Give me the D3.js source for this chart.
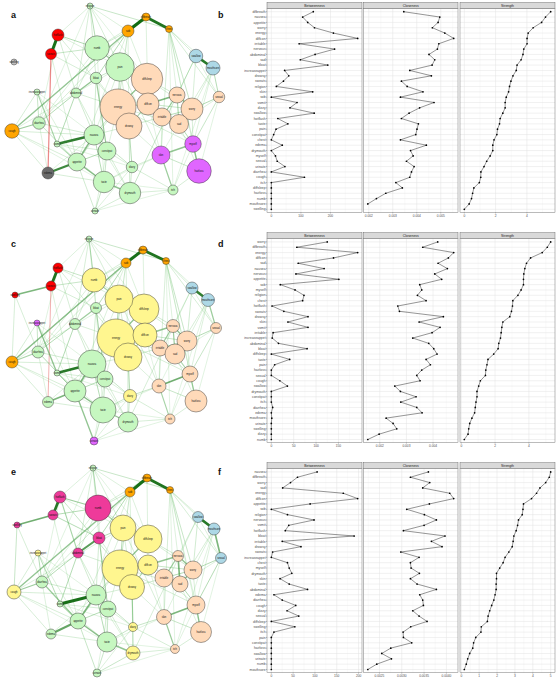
<!DOCTYPE html>
<html>
<head>
<meta charset="utf-8">
<script src="https://cdn.jsdelivr.net/npm/d3@7"></script>
<style>
  body { margin: 0; background: #fff; }
  text { font-family: "Liberation Sans", Arial, sans-serif; }
</style>
</head>
<body>
<div id="chart"></div>
<script>
// symptom nodes (same order for all three networks)
const nodeNames = ["religion","sob","difbreath","chest","hotflash","sweats","swelling","edema","swallow","mouthsore",
  "diffsleep","energy","drowsy","diffcon","nervous","worry","irritable","sad","sexual","myself",
  "hairloss","skin","numb","pain","bloat","abdominal","increaseappet","diarrhea","vomit","nausea",
  "constipat","appetite","taste","drymouth","dizzy","itch","urinate","cough"];

// layouts (qgraph layout units)
const layoutA = [[90,6],[128,31],[146,17],[169,29],[58,35],[51,54],[14,62],[48,173],[196,56],[213,68],
  [147,79],[118,107],[129,126],[148,104],[177,95],[192,109],[162,117],[179,124],[219,97],[193,144],
  [199,171],[161,155],[97,48],[120,67],[96,78],[76,93],[37,92],[39,123],[57,144],[94,135],
  [107,151],[77,162],[104,182],[130,193],[132,167],[173,190],[95,211],[12,131]];
const layoutC = [[89,11],[126,35],[143,22],[166,33],[58,40],[51,58],[15,67],[48,174],[192,60],[208,72],
  [144,81],[116,110],[128,129],[145,107],[173,98],[187,113],[160,120],[175,126],[216,100],[190,146],
  [196,173],[159,158],[94,52],[119,71],[96,80],[75,96],[37,95],[38,124],[57,145],[92,136],
  [105,151],[75,163],[103,182],[128,194],[130,168],[170,191],[94,213],[12,134]];
const layoutE = [[93,12],[130,36],[147,22],[170,34],[60,41],[53,59],[17,69],[51,178],[198,61],[214,73],
  [148,83],[120,112],[132,131],[148,109],[178,100],[193,114],[164,122],[180,128],[221,102],[196,149],
  [201,176],[164,161],[98,52],[123,72],[99,82],[78,97],[38,97],[42,126],[60,148],[96,139],
  [108,153],[78,165],[107,186],[133,197],[133,171],[175,193],[97,217],[14,136]];

// node size values
const sizeA = [12,24,16,14,24,22,12,24,27,28,63,72,52,44,32,44,36,38,23,33,49,36,49,57,23,20,12,25,12,40,36,36,43,43,23,20,12,29];
const sizeC = [12,20,16,14,20,20,12,22,24,26,60,76,56,48,26,40,32,40,22,32,44,28,48,56,22,22,12,24,12,56,32,44,52,40,26,20,16,24];
const sizeE = [12,20,16,14,24,20,12,20,22,24,56,72,50,40,22,36,36,32,22,36,42,30,52,52,24,20,12,24,12,40,32,32,40,28,18,18,16,28];

// communities
const groupA = ["g","o","o","o","r","r","gr","dg","b","b","p","p","p","p","p","p","p","p","p","m",
  "m","m","g","g","g","g","g","g","g","g","g","g","g","g","g","g","g","o"];
const groupC = ["g","o","o","o","r","r","r","g","b","b","y","y","y","y","p","p","p","p","p","p",
  "p","p","y","y","g","g","m","g","g","g","g","g","g","g","y","p","m","o"];
const groupE = ["g","o","o","o","k","k","k","g","b","b","y","y","y","y","p","p","p","p","b","p",
  "p","p","k","y","k","k","y","g","g","g","g","g","g","y","y","p","g","y"];

// edges: from, to, weight in a, c, e
const edges = [
  ["sob","difbreath",0.95,0.9,0.9],["difbreath","chest",0.85,0.85,0.85],["hotflash","sweats",0.9,0.85,0.8],
  ["swallow","mouthsore",0.8,0.75,0.8],["edema","appetite",0.7,0.45,0.55],["vomit","nausea",0.75,0.8,0.9],
  ["bloat","abdominal",0.35,0.3,0.6],["sweats","swelling",0,0.45,0.5],["sweats","edema",-0.3,-0.15,0],
  ["cough","sob",0.35,0.4,0.35],["skin","myself",0.35,0.5,0.45],["mouthsore","sexual",0.2,0.3,0.45],
  ["numb","pain",0.3,0.25,0.25],["energy","drowsy",0.5,0.45,0.45],["energy","diffsleep",0.35,0.35,0.35],
  ["energy","diffcon",0.3,0.3,0.3],["diffcon","nervous",0.45,0.35,0.35],["diffcon","drowsy",0.25,0.25,0.25],
  ["nervous","worry",0.4,0.35,0.35],["nervous","irritable",0.3,0.3,0.3],["nervous","sad",0.25,0.3,0.45],
  ["worry","sad",0.4,0.4,0.4],["irritable","sad",0.3,0.3,0.3],["worry","irritable",0.2,0.2,0.2],
  ["sad","myself",0.2,0.25,0.2],["myself","hairloss",0.35,0.3,0.35],["skin","itch",0.3,0.25,0.3],
  ["hairloss","skin",0.15,0.15,0.15],["hairloss","itch",0.1,0.1,0.1],["sexual","worry",0.2,0.2,0.2],
  ["sexual","myself",0.15,0.15,0.2],["appetite","taste",0.4,0.4,0.4],["nausea","appetite",0.4,0.45,0.45],
  ["constipat","bloat",0.3,0.25,0.25],["nausea","constipat",0.25,0.25,0.25],["appetite","constipat",0.2,0.2,0.2],
  ["taste","drymouth",0.35,0.35,0.35],["taste","constipat",0.15,0.15,0.15],["drymouth","swallow",0.15,0.1,0.1],
  ["diarrhea","cough",0.3,0.25,0.3],["diarrhea","abdominal",0.2,0.2,0.2],["diarrhea","appetite",0.15,0.2,0.3],
  ["diarrhea","nausea",0.12,0.12,0.12],["hotflash","numb",0.2,0.15,0.3],["religion","numb",0.2,0.2,0.2],
  ["religion","chest",0.15,0.15,0.15],["religion","pain",0.1,0.1,0.1],["religion","abdominal",0.1,0.1,0.1],
  ["drowsy","dizzy",0.2,0.2,0.25],["dizzy","nausea",0.15,0.15,0.15],["dizzy","taste",0.1,0.15,0.15],
  ["pain","diffsleep",0.25,0.25,0.25],["pain","energy",0.2,0.2,0.2],["pain","bloat",0.15,0.15,0.2],
  ["urinate","taste",0.15,0.15,0.15],["urinate","appetite",0.12,0.35,0.15],["urinate","drymouth",0.1,0.1,0.15],
  ["increaseappet","vomit",0.25,0.35,0.2],["increaseappet","diarrhea",0.15,0.15,0.2],["increaseappet","cough",0.1,0.1,0.1],
  ["vomit","abdominal",0.2,0.2,0.2],["swelling","cough",0,0.1,0.15],["swelling","diarrhea",0,0.1,0.1],
  ["chest","worry",0.15,0.15,0.15],["chest","swallow",0.1,0.1,0.1],["chest","sexual",0.1,0.1,0.1],
  ["chest","skin",0.1,0.1,0.1],["sob","energy",0.15,0.15,0.15],["sob","numb",0.12,0.12,0.12],
  ["sob","bloat",0.2,0.2,0.2],["difbreath","numb",0.1,0.1,0.1],["difbreath","diffcon",0.08,0.08,0.08],
  ["swallow","worry",0.1,0.12,0.12],["mouthsore","sad",0.1,0.1,0.1],["myself","energy",0.1,0.1,0.1],
  ["skin","dizzy",0.1,0.15,0.15],["itch","drymouth",0.1,0.1,0.1],["drowsy","drymouth",0.15,0.15,0.15],
  ["energy","nausea",0.15,0.15,0.15],["numb","diffsleep",0.1,0.1,0.1],["abdominal","energy",0.1,0.1,0.1],
  ["sweats","bloat",0.1,0.1,0.2],["hotflash","energy",0.1,0.1,0.15],["cough","nausea",0.1,0.1,0.1],
  ["sweats","numb",0.15,0.15,0.2],["hotflash","abdominal",0.1,0.1,0.25],["pain","skin",0.1,0.1,0.1],
  ["energy","sad",0.1,0.1,0.1],["diffcon","worry",0.15,0.15,0.15],["drowsy","irritable",0.12,0.12,0.12],
  ["cough","edema",0.1,0.1,0.1],["nausea","taste",0.2,0.2,0.2],["constipat","drymouth",0.1,0.1,0.1],
  ["appetite","vomit",0.2,0.2,0.2],["itch","dizzy",0.1,0.1,0.1],
  ["religion","sob",0.08,0.08,0.08],["religion","hotflash",0.08,0.08,0.08],["religion","bloat",0.1,0.1,0.1],
  ["religion","diarrhea",0.06,0.06,0.06],["religion","diffsleep",0.06,0.06,0.06],["chest","itch",0.06,0.06,0.06],
  ["chest","myself",0.08,0.08,0.08],["chest","hairloss",0.06,0.06,0.06],["chest","nervous",0.08,0.08,0.08],
  ["chest","mouthsore",0.08,0.08,0.08],["sob","drowsy",0.08,0.08,0.08],["sob","appetite",0.08,0.08,0.08],
  ["sob","diarrhea",0.1,0.1,0.1],["cough","pain",0.08,0.08,0.08],["cough","appetite",0.1,0.1,0.1],
  ["cough","taste",0.06,0.06,0.06],["numb","abdominal",0.1,0.1,0.1],["numb","diarrhea",0.08,0.08,0.08],
  ["numb","taste",0.06,0.06,0.06],["hotflash","pain",0.08,0.08,0.08],["hotflash","diarrhea",0.06,0.06,0.06],
  ["sweats","appetite",0.08,0.08,0.08],["edema","taste",0.1,0.1,0.1],["edema","diarrhea",0.08,0.08,0.08],
  ["edema","nausea",0.08,0.08,0.08],["vomit","constipat",0.1,0.1,0.1],["vomit","dizzy",0.06,0.06,0.06],
  ["mouthsore","worry",0.08,0.08,0.08],["mouthsore","myself",0.08,0.08,0.08],["mouthsore","itch",0.06,0.06,0.06],
  ["swallow","nervous",0.08,0.08,0.08],["swallow","sexual",0.08,0.08,0.08],["sexual","sad",0.08,0.08,0.08],
  ["sexual","hairloss",0.06,0.06,0.06],["myself","itch",0.06,0.06,0.06],["hairloss","sad",0.08,0.08,0.08],
  ["skin","taste",0.06,0.06,0.06],["skin","drowsy",0.08,0.08,0.08],["itch","taste",0.06,0.06,0.06],
  ["itch","urinate",0.06,0.06,0.06],["dizzy","drymouth",0.1,0.1,0.1],["dizzy","constipat",0.08,0.08,0.08],
  ["drymouth","nausea",0.08,0.08,0.08],["drowsy","nausea",0.1,0.1,0.1],["diffsleep","worry",0.1,0.1,0.1],
  ["diffsleep","nervous",0.12,0.12,0.12],["diffsleep","sob",0.08,0.08,0.08],["energy","appetite",0.1,0.1,0.1],
  ["energy","constipat",0.08,0.08,0.08],["pain","nausea",0.08,0.08,0.08],["pain","drowsy",0.1,0.1,0.1],
  ["bloat","nausea",0.12,0.12,0.12],["bloat","energy",0.1,0.1,0.1],["abdominal","nausea",0.12,0.12,0.12],
  ["abdominal","constipat",0.1,0.1,0.1],["increaseappet","appetite",0.08,0.08,0.08],["increaseappet","nausea",0.06,0.06,0.06],
  ["urinate","constipat",0.06,0.06,0.06],["urinate","dizzy",0.08,0.08,0.08],["taste","vomit",0.08,0.08,0.08],
  ["irritable","myself",0.1,0.1,0.1],["irritable","skin",0.08,0.08,0.08],["worry","myself",0.1,0.1,0.1],
  ["sad","skin",0.06,0.06,0.06],["diffcon","sad",0.12,0.12,0.12],["diffcon","skin",0.06,0.06,0.06]
];

// centrality panels
const labelsB = ["difbreath","nausea","appetite","worry","energy","diffcon","irritable","nervous","abdominal","sad",
  "bloat","increaseappet","drowsy","sweats","religion","skin","sob","vomit","dizzy","swallow",
  "hotflash","taste","pain","constipat","chest","edema","drymouth","myself","sexual","urinate",
  "diarrhea","cough","itch","diffsleep","hairloss","numb","mouthsore","swelling"];
const betB = [142,106,123,146,210,292,94,214,148,98,191,45,59,41,17,140,0,87,63,145,22,56,16,8,0,37,0,14,20,46,0,112,0,0,0,0,0,0];
const cloB = [0.00346,0.00496,0.00489,0.00465,0.00517,0.00554,0.00492,0.00486,0.00451,0.00475,0.00464,0.00371,0.00461,
  0.00336,0.0036,0.00426,0.00332,0.00472,0.00412,0.00368,0.00336,0.00407,0.00401,0.00396,0.00332,0.0044,0.00374,
  0.00385,0.00357,0.00389,0.00378,0.00371,0.00313,0.0034,0.00271,0.00232,0.00196,null];
const strB = [5.52,5.19,4.94,4.40,4.08,4.01,4.01,3.80,3.75,3.63,3.37,3.32,3.11,2.98,2.89,2.83,2.68,2.61,2.61,2.46,
  2.29,2.25,2.12,2.08,1.90,1.82,1.82,1.65,1.43,1.26,1.06,1.05,0.96,0.61,0.53,0.46,0.31,0.0];

const labelsD = ["worry","difbreath","energy","diffcon","sad","nausea","nervous","appetite","sob","myself",
  "religion","chest","hotflash","sweats","drowsy","skin","vomit","irritable","increaseappet","abdominal",
  "bloat","diffsleep","taste","pain","hairloss","sexual","cough","swallow","drymouth","constipat",
  "itch","diarrhea","edema","mouthsore","urinate","swelling","dizzy","numb"];
const betD = [125,57,193,139,60,118,55,151,20,53,73,70,1.5,28,82,37,82,4,2,16,80,0,41,7.5,0,0,19,36,0,0,0,3,0,1,0,0,0,0];
const cloD = [0.004175,0.003613,0.004775,0.004575,0.004188,0.004538,0.004063,0.004325,0.0035,0.003575,0.003413,
  0.003738,0.002675,0.002738,0.004388,0.003475,0.004263,0.003963,0.003238,0.003838,0.004025,0.00415,0.003738,
  0.0039,0.003575,0.003388,0.003513,0.002563,0.002775,0.003363,0.002788,0.003388,0.003588,0.002238,0.0025,
  0.002638,0.001975,0.00155];
const strD = [5.29,5.09,4.79,4.10,3.86,3.76,3.70,3.68,3.68,3.54,3.35,3.05,3.03,2.97,2.87,2.46,2.40,2.36,2.32,2.22,
  2.18,1.92,1.58,1.52,1.45,1.43,1.13,1.03,0.93,0.93,0.87,0.83,0.79,0.63,0.50,0.44,0.40,0.18];

const labelsF = ["nausea","difbreath","worry","sad","energy","diffcon","appetite","sob","religion","nervous",
  "vomit","hotflash","bloat","irritable","drowsy","sweats","increaseappet","chest","myself","drymouth",
  "skin","taste","abdominal","edema","diarrhea","cough","dizzy","sexual","diffsleep","swelling",
  "itch","pain","constipat","hairloss","swallow","urinate","numb","mouthsore"];
const betF = [105,60,44,26,165,198,89,0,37,98,40,32,190,25,68,3,0,37,41,47,20,41,83,6,25,56,36,63,0,54,6,0,0,0,0,0,0,0];
const cloF = [0.003597,0.003194,0.003627,0.00347,0.004075,0.004164,0.003619,0.003112,0.003507,0.003776,0.0035,
  0.003037,0.00397,0.003664,0.003903,0.002978,0.003388,0.003194,0.003209,0.003396,0.003194,0.003343,0.003776,
  0.003403,0.00347,0.003485,0.003246,0.003388,0.003567,0.003201,0.00303,0.003037,0.003224,0.002754,0.002552,
  0.002769,0.00244,0.002239];
const strF = [5.0,4.92,4.72,4.40,4.21,3.93,3.48,3.45,3.41,3.20,3.15,3.07,2.94,2.90,2.85,2.66,2.45,2.34,2.15,1.97,
  1.97,1.95,1.95,1.89,1.82,1.70,1.59,1.50,1.46,1.12,1.10,0.81,0.69,0.64,0.47,0.36,0.28,0.17];

const ticksB = [[0,100,200],[0.002,0.003,0.004,0.005],[0,2,4]];
const ticksD = [[0,50,100,150],[0.002,0.003,0.004],[0,2,4]];
const ticksF = [[0,50,100,150,200],[0.0025,0.003,0.0035,0.004],[0,1,2,3,4,5]];

const groupColor = { g: "#C6F7C0", o: "#FFA500", r: "#FF0000", gr: "#BEBEBE", dg: "#6B6B6B", b: "#ADD8E6",
  p: "#FFDAB9", m: "#E066FF", y: "#FFF68F", k: "#EE3A9A" };

const svg = d3.select("#chart").append("svg")
  .attr("width", 556)
  .attr("height", 685);

svg.append("rect").attr("width", 556).attr("height", 685).attr("fill", "#fff");

function drawNetwork(oy, layout, sizes, groups, wi) {
  const x = d3.scaleLinear().domain([0, 230]).range([0, 230]);
  const y = d3.scaleLinear().domain([0, 220]).range([oy, oy + 220]);
  const r = d3.scaleLinear().domain([0, 80]).range([0, 20]);
  const idx = new Map(nodeNames.map((n, i) => [n, i]));
  const g = svg.append("g");

  const es = edges.filter(e => e[wi] !== 0)
    .sort((a, b) => Math.abs(a[wi]) - Math.abs(b[wi]));
  const green = d3.interpolateRgb("#86d386", "#0a660a");

  g.selectAll("line").data(es).enter().append("line")
    .attr("x1", e => x(layout[idx.get(e[0])][0]))
    .attr("y1", e => y(layout[idx.get(e[0])][1]))
    .attr("x2", e => x(layout[idx.get(e[1])][0]))
    .attr("y2", e => y(layout[idx.get(e[1])][1]))
    .attr("stroke", e => e[wi] < 0 ? "#d33" : green(Math.min(1, e[wi] * 1.3)))
    .attr("stroke-opacity", e => 0.4 + 0.6 * Math.abs(e[wi]))
    .attr("stroke-width", e => 0.35 + 2.9 * Math.abs(e[wi]))
    .attr("stroke-linecap", "round");

  const nodes = g.selectAll(".node").data(nodeNames).enter().append("g")
    .attr("transform", (d, i) => "translate(" + x(layout[i][0]) + "," + y(layout[i][1]) + ")");

  nodes.append("circle")
    .attr("r", (d, i) => r(sizes[i]))
    .attr("fill", (d, i) => groupColor[groups[i]])
    .attr("stroke", "#333")
    .attr("stroke-width", 0.45);

  nodes.append("text")
    .attr("text-anchor", "middle")
    .attr("dy", "0.35em")
    .attr("font-size", 2.6)
    .attr("fill", "#111")
    .text(d => d);
}

function drawCentrality(top, labels, series, ticks) {
  const names = ["Betweenness", "Closeness", "Strength"];
  const xs = [[267, 362], [363.5, 458], [460, 555]];
  const fmts = [d3.format("d"), null, d3.format("d")];
  const h = 204;
  const y = d3.scalePoint().domain(labels).range([top, top + h]).padding(0.6);
  const g = svg.append("g");

  series.forEach((vals, k) => {
    const ext = d3.extent(vals.filter(v => v !== null));
    const pad = (ext[1] - ext[0]) * 0.05;
    const x = d3.scaleLinear().domain([ext[0] - pad, ext[1] + pad]).range(xs[k]);
    const tv = ticks[k];
    const step = tv[1] - tv[0];
    const minor = [tv[0] - step / 2].concat(tv.map(t => t + step / 2))
      .filter(t => t >= x.domain()[0] && t <= x.domain()[1]);
    const dec = k === 1 ? Math.max(0, -Math.floor(Math.log10(step) + 1e-9)) : 0;
    const fmt = k === 1 ? d3.format("." + dec + "f") : fmts[k];
    const p = g.append("g");

    p.append("rect")
      .attr("x", xs[k][0]).attr("y", top)
      .attr("width", xs[k][1] - xs[k][0]).attr("height", h)
      .attr("fill", "#fff");

    p.selectAll(".minor").data(minor).enter().append("line")
      .attr("x1", d => x(d)).attr("x2", d => x(d))
      .attr("y1", top).attr("y2", top + h)
      .attr("stroke", "#ededed").attr("stroke-width", 0.3);

    p.selectAll(".major").data(tv).enter().append("line")
      .attr("x1", d => x(d)).attr("x2", d => x(d))
      .attr("y1", top).attr("y2", top + h)
      .attr("stroke", "#e3e3e3").attr("stroke-width", 0.5);

    p.selectAll(".row").data(labels).enter().append("line")
      .attr("x1", xs[k][0]).attr("x2", xs[k][1])
      .attr("y1", d => y(d)).attr("y2", d => y(d))
      .attr("stroke", "#e3e3e3").attr("stroke-width", 0.5);

    const line = d3.line()
      .defined(d => d[1] !== null)
      .x(d => x(d[1]))
      .y(d => y(d[0]));
    const pts = labels.map((l, i) => [l, vals[i]]);

    p.append("path")
      .attr("d", line(pts))
      .attr("fill", "none")
      .attr("stroke", "#111")
      .attr("stroke-width", 0.45);

    p.selectAll(".pt").data(pts.filter(d => d[1] !== null)).enter().append("circle")
      .attr("cx", d => x(d[1])).attr("cy", d => y(d[0]))
      .attr("r", 0.85).attr("fill", "#000");

    p.append("rect")
      .attr("x", xs[k][0]).attr("y", top)
      .attr("width", xs[k][1] - xs[k][0]).attr("height", h)
      .attr("fill", "none").attr("stroke", "#555").attr("stroke-width", 0.4);

    // strip
    p.append("rect")
      .attr("x", xs[k][0]).attr("y", top - 6)
      .attr("width", xs[k][1] - xs[k][0]).attr("height", 6)
      .attr("fill", "#d9d9d9").attr("stroke", "#555").attr("stroke-width", 0.4);
    p.append("text")
      .attr("x", (xs[k][0] + xs[k][1]) / 2).attr("y", top - 1.8)
      .attr("text-anchor", "middle").attr("font-size", 3.4).attr("fill", "#1a1a1a")
      .text(names[k]);

    // x axis
    p.selectAll(".xt").data(tv).enter().append("line")
      .attr("x1", d => x(d)).attr("x2", d => x(d))
      .attr("y1", top + h).attr("y2", top + h + 1)
      .attr("stroke", "#333").attr("stroke-width", 0.3);
    p.selectAll(".xl").data(tv).enter().append("text")
      .attr("x", d => x(d)).attr("y", top + h + 4.2)
      .attr("text-anchor", "middle").attr("font-size", 3.2).attr("fill", "#4d4d4d")
      .text(d => fmt(d));
  });

  g.selectAll(".yt").data(labels).enter().append("line")
    .attr("x1", xs[0][0] - 1).attr("x2", xs[0][0])
    .attr("y1", d => y(d)).attr("y2", d => y(d))
    .attr("stroke", "#333").attr("stroke-width", 0.3);
  g.selectAll(".yl").data(labels).enter().append("text")
    .attr("x", xs[0][0] - 1.4).attr("y", d => y(d))
    .attr("dy", "0.35em")
    .attr("text-anchor", "end").attr("font-size", 3.4).attr("fill", "#4d4d4d")
    .text(d => d);
}

drawNetwork(0, layoutA, sizeA, groupA, 2);
drawNetwork(228, layoutC, sizeC, groupC, 3);
drawNetwork(456, layoutE, sizeE, groupE, 4);

drawCentrality(8.5, labelsB, [betB, cloB, strB], ticksB);
drawCentrality(238.7, labelsD, [betD, cloD, strD], ticksD);
drawCentrality(468.7, labelsF, [betF, cloF, strF], ticksF);

// panel letters
const letters = [["a", 11, 18], ["b", 218, 18], ["c", 11, 247], ["d", 218, 247], ["e", 11, 475], ["f", 218, 475]];
svg.selectAll(".letter").data(letters).enter().append("text")
  .attr("x", d => d[1]).attr("y", d => d[2])
  .attr("font-size", 9).attr("font-weight", "bold").attr("fill", "#111")
  .text(d => d[0]);
</script>
</body>
</html>
